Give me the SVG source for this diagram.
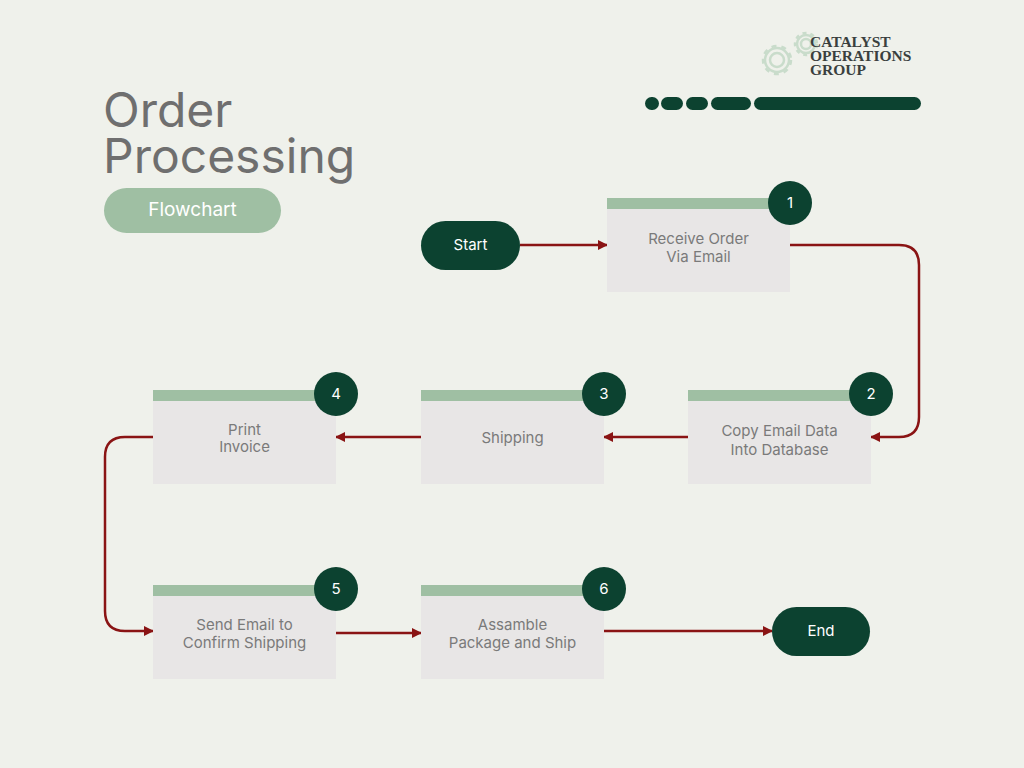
<svg xmlns="http://www.w3.org/2000/svg" width="1024" height="768" viewBox="0 0 1024 768">
<style>
.box{fill:#e8e6e6}.bar{fill:#9fbfa3}.num{fill:#0c4230}.nt{font-family:Inter,"Liberation Sans",sans-serif;font-size:15px;fill:#7a7a7a;text-anchor:middle}
.nn{font-family:Inter,"Liberation Sans",sans-serif;font-size:15px;fill:#fff;text-anchor:middle}
.c{fill:none;stroke:#8a1414;stroke-width:2.5}
.gear{fill:none;stroke:#c9dccb;stroke-width:2.5}
</style>
<defs><marker id="a" viewBox="0 0 10 10" refX="9" refY="5" markerWidth="4" markerHeight="4" orient="auto"><path d="M0,0L10,5L0,10z" fill="#8a1414"/></marker></defs>
<rect width="1024" height="768" fill="#eff1eb"/>
<g id="logo">
<circle cx="777" cy="60" r="14" class="gear" stroke-dasharray="5 5" stroke-width="7"/><circle cx="777" cy="60" r="12" class="gear"/><circle cx="777" cy="60" r="7" class="gear"/>
<circle cx="806" cy="44" r="11" class="gear" stroke-dasharray="4 4" stroke-width="6"/><circle cx="806" cy="44" r="9" class="gear"/><circle cx="806" cy="44" r="5" class="gear"/>
<text font-family="'Liberation Serif',serif" font-weight="bold" font-size="15.5" fill="#3a3f3e"><tspan x="810" y="47">CATALYST</tspan><tspan x="810" y="61">OPERATIONS</tspan><tspan x="810" y="75">GROUP</tspan></text>
</g>
<g id="deco" fill="#0c4230"><rect x="645" y="97" width="14" height="13" rx="6.5"/><rect x="661" y="97" width="22" height="13" rx="6.5"/><rect x="686" y="97" width="22" height="13" rx="6.5"/><rect x="711" y="97" width="40" height="13" rx="6.5"/><rect x="754" y="97" width="167" height="13" rx="6.5"/></g>
<g id="title"><text x="103" y="127" font-family="Inter,'Liberation Sans',sans-serif" font-size="48" fill="#6f6f6f">Order</text><text x="103" y="173" font-family="Inter,'Liberation Sans',sans-serif" font-size="48" fill="#6f6f6f">Processing</text>
<rect x="104" y="188" width="177" height="45" rx="22.5" fill="#9fbfa3"/><text x="192.5" y="216" text-anchor="middle" font-family="Inter,'Liberation Sans',sans-serif" font-size="19" fill="#fff">Flowchart</text></g>
<g id="connectors">
<path class="c" marker-end="url(#a)" d="M520,245H607"/>
<path class="c" marker-end="url(#a)" d="M790,245H899Q919,245 919,265V417Q919,437 899,437H871"/>
<path class="c" marker-end="url(#a)" d="M688,437H604"/>
<path class="c" marker-end="url(#a)" d="M421,437H336"/>
<path class="c" marker-end="url(#a)" d="M153,437H125Q105,437 105,457V611Q105,631 125,631H153"/>
<path class="c" marker-end="url(#a)" d="M336,633H421"/>
<path class="c" marker-end="url(#a)" d="M604,631H772"/>
</g>
<g id="start"><rect x="421" y="221" width="99" height="49" rx="24.5" fill="#0c4230"/><text x="470.5" y="250" class="nn">Start</text></g>
<g id="end"><rect x="772" y="607" width="98" height="49" rx="24.5" fill="#0c4230"/><text x="821" y="636" class="nn">End</text></g>
<g id="n1"><rect x="607" y="198" width="183" height="94" class="box"/><rect x="607" y="198" width="183" height="11" class="bar"/><circle cx="790" cy="203" r="22" class="num"/><text x="790" y="208" class="nn">1</text><text class="nt"><tspan x="698.5" y="244">Receive Order</tspan><tspan x="698.5" y="262">Via Email</tspan></text></g>
<g id="n2"><rect x="688" y="390" width="183" height="94" class="box"/><rect x="688" y="390" width="183" height="11" class="bar"/><circle cx="871" cy="394" r="22" class="num"/><text x="871" y="399" class="nn">2</text><text class="nt"><tspan x="779.5" y="436">Copy Email Data</tspan><tspan x="779.5" y="455">Into Database</tspan></text></g>
<g id="n3"><rect x="421" y="390" width="183" height="94" class="box"/><rect x="421" y="390" width="183" height="11" class="bar"/><circle cx="604" cy="394" r="22" class="num"/><text x="604" y="399" class="nn">3</text><text x="512.5" y="443" class="nt">Shipping</text></g>
<g id="n4"><rect x="153" y="390" width="183" height="94" class="box"/><rect x="153" y="390" width="183" height="11" class="bar"/><circle cx="336" cy="394" r="22" class="num"/><text x="336" y="399" class="nn">4</text><text class="nt"><tspan x="244.5" y="435">Print</tspan><tspan x="244.5" y="452">Invoice</tspan></text></g>
<g id="n5"><rect x="153" y="585" width="183" height="94" class="box"/><rect x="153" y="585" width="183" height="11" class="bar"/><circle cx="336" cy="589" r="22" class="num"/><text x="336" y="594" class="nn">5</text><text class="nt"><tspan x="244.5" y="630">Send Email to</tspan><tspan x="244.5" y="648">Confirm Shipping</tspan></text></g>
<g id="n6"><rect x="421" y="585" width="183" height="94" class="box"/><rect x="421" y="585" width="183" height="11" class="bar"/><circle cx="604" cy="589" r="22" class="num"/><text x="604" y="594" class="nn">6</text><text class="nt"><tspan x="512.5" y="630">Assamble</tspan><tspan x="512.5" y="648">Package and Ship</tspan></text></g>
</svg>
